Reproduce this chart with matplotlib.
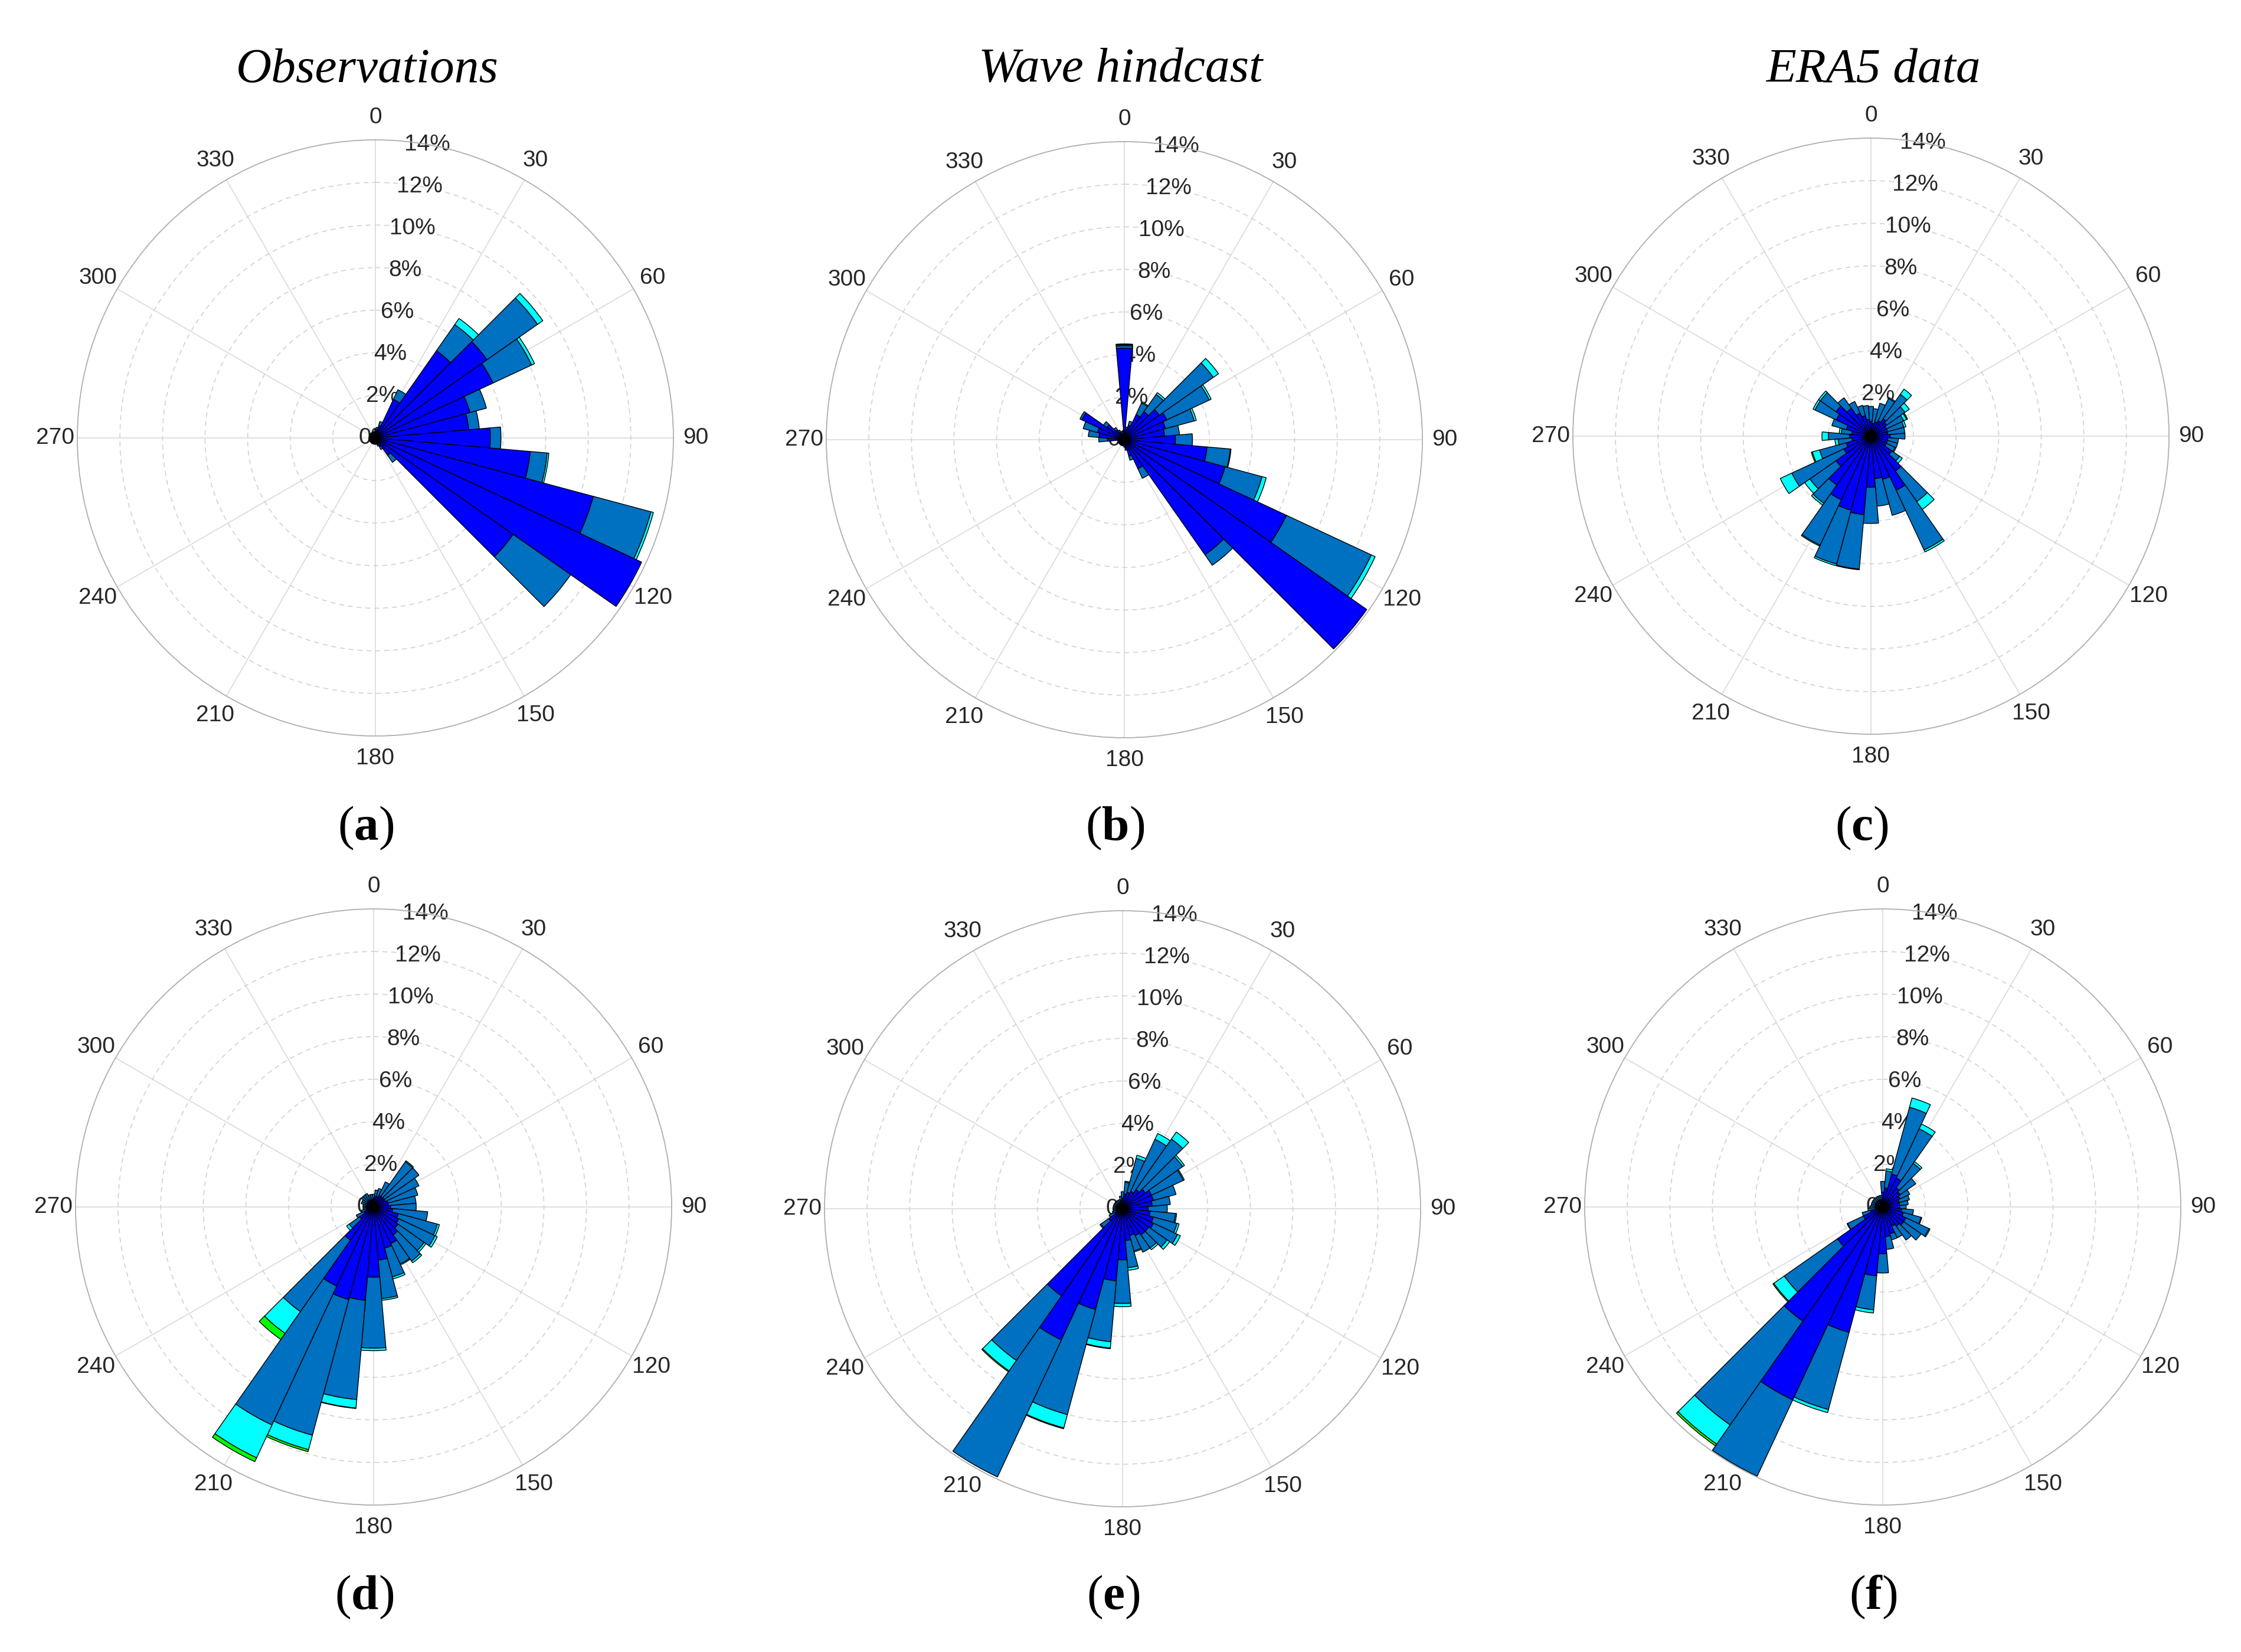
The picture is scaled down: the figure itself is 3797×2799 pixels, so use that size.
import numpy as np
import matplotlib
matplotlib.use('Agg')
import matplotlib.pyplot as plt

plt.rcParams['mathtext.fontset'] = 'custom'
plt.rcParams['mathtext.rm'] = 'Liberation Serif'
plt.rcParams['mathtext.bf'] = 'Liberation Serif:bold'

# direction bins (deg), 10 deg wide, centred on 0, 10, ..., 350
directions = np.arange(0, 360, 10)

col_titles = ['Observations', 'Wave hindcast', 'ERA5 data']
panel_tags = ['a', 'b', 'c', 'd', 'e', 'f']
class_colors = ['#0000FF', '#0070C0', '#00FFFF', '#00FF00']

# frequency (%) per direction bin and class
#          0    10   20   30   40   50   60   70   80   90   100  110  120  130  140  150  160  170
#          180  190  200  210  220  230  240  250  260  270  280  290  300  310  320  330  340  350
a_blue = [0.3, 0.35, 0.6, 2.0, 5.0, 6.4, 6.1, 4.6, 4.4, 5.4, 7.3, 10.6, 13.8, 7.9, 1.0, 0.45, 0.3, 0.25,
          0.22, 0.22, 0.22, 0.22, 0.22, 0.22, 0.22, 0.22, 0.22, 0.22, 0.22, 0.22, 0.22, 0.22, 0.22, 0.22, 0.22, 0.22]
a_steel = [0.1, 0.15, 0.2, 0.5, 1.5, 2.9, 2.0, 0.8, 0.5, 0.5, 0.8, 2.8, 0.0, 3.3, 0.4, 0.15, 0.1, 0.05,
           0.08, 0.08, 0.08, 0.08, 0.08, 0.08, 0.08, 0.08, 0.08, 0.08, 0.08, 0.08, 0.08, 0.08, 0.08, 0.08, 0.08, 0.08]
a_cyan = [0, 0, 0, 0, 0.35, 0.3, 0.15, 0, 0, 0, 0.08, 0.12, 0, 0, 0, 0, 0, 0,
          0, 0, 0, 0, 0, 0, 0, 0, 0, 0, 0, 0, 0, 0, 0, 0, 0, 0]
a_green = [0] * 36

b_blue = [4.3, 0.5, 0.7, 1.3, 1.6, 2.0, 2.2, 2.0, 1.9, 2.4, 3.9, 4.9, 8.4, 13.9, 6.6, 1.5, 0.8, 0.4,
          0.3, 0.25, 0.25, 0.25, 0.25, 0.25, 0.25, 0.25, 0.25, 0.8, 1.2, 1.3, 2.2, 1.0, 0.55, 0.4, 0.3, 0.3]
b_steel = [0.12, 0.1, 0.2, 0.6, 1.0, 3.1, 2.2, 1.4, 0.7, 0.8, 1.1, 1.8, 4.4, 0.0, 0.6, 0.5, 0.2, 0.1,
           0.05, 0.05, 0.05, 0.05, 0.05, 0.05, 0.05, 0.05, 0.05, 0.4, 0.5, 0.7, 0.1, 0.2, 0.15, 0.1, 0.1, 0.1]
b_cyan = [0.05, 0, 0, 0.05, 0.1, 0.3, 0.1, 0.1, 0, 0, 0.03, 0.2, 0.2, 0, 0, 0, 0, 0,
          0, 0, 0, 0, 0, 0, 0, 0, 0, 0, 0, 0, 0, 0, 0, 0, 0, 0]
b_green = [0.03, 0, 0, 0, 0, 0, 0, 0, 0, 0, 0, 0, 0, 0, 0, 0, 0, 0,
           0, 0, 0, 0, 0, 0, 0, 0, 0, 0, 0, 0, 0, 0, 0, 0, 0, 0]

c_blue = [0.7, 0.6, 0.7, 0.8, 1.0, 0.9, 0.8, 0.8, 0.8, 0.9, 0.8, 0.8, 0.8, 1.2, 2.0, 2.8, 2.1, 2.0,
          2.4, 3.7, 3.6, 3.3, 2.8, 2.0, 1.4, 1.2, 0.9, 1.0, 0.9, 1.2, 1.8, 2.0, 1.6, 1.2, 1.0, 0.8]
c_steel = [0.7, 0.7, 0.9, 1.15, 1.4, 1.05, 0.9, 0.8, 0.8, 0.7, 0.5, 0.5, 0.45, 0.45, 1.75, 3.1, 1.75, 1.3,
           1.7, 2.57, 2.62, 2.35, 1.05, 1.5, 2.7, 1.3, 0.65, 1.0, 0.5, 0.7, 1.1, 0.9, 0.6, 0.6, 0.5, 0.65]
c_cyan = [0, 0, 0, 0.05, 0.3, 0.25, 0.15, 0.1, 0, 0, 0, 0, 0.05, 0.15, 0.45, 0.1, 0, 0,
          0, 0.03, 0.08, 0.05, 0.1, 0.3, 0.6, 0.35, 0.15, 0.3, 0.1, 0, 0.1, 0.1, 0, 0, 0, 0]
c_green = [0, 0, 0, 0, 0, 0, 0.05, 0, 0, 0, 0, 0, 0, 0, 0, 0, 0, 0,
           0, 0, 0, 0, 0, 0, 0, 0.05, 0, 0, 0, 0, 0, 0, 0, 0, 0, 0]

d_blue = [0.4, 0.5, 0.5, 0.6, 0.6, 0.6, 0.6, 0.7, 0.7, 0.8, 0.9, 1.2, 1.3, 1.4, 1.6, 1.9, 2.0, 2.5,
          3.3, 4.4, 4.5, 4.1, 1.9, 0.8, 0.5, 0.35, 0.35, 0.35, 0.35, 0.35, 0.35, 0.35, 0.35, 0.35, 0.35, 0.35]
d_steel = [0.2, 0.3, 0.4, 0.7, 2.0, 2.0, 1.75, 1.45, 1.3, 1.2, 1.65, 1.9, 1.88, 1.5, 1.5, 1.05, 1.4, 1.82,
           3.33, 4.68, 6.6, 7.2, 4.1, 0.6, 0.4, 0.25, 0.15, 0.15, 0.15, 0.25, 0.25, 0.35, 0.35, 0.35, 0.25, 0.25]
d_cyan = [0, 0, 0, 0, 0.05, 0, 0, 0, 0, 0, 0, 0.1, 0.12, 0.1, 0.1, 0.05, 0.1, 0.08,
          0.12, 0.4, 0.7, 1.7, 1.25, 0.15, 0, 0, 0, 0, 0, 0, 0, 0, 0, 0, 0, 0]
d_green = [0, 0, 0, 0, 0, 0, 0, 0, 0, 0, 0, 0, 0, 0, 0, 0, 0, 0,
           0, 0.02, 0.1, 0.2, 0.35, 0, 0, 0, 0, 0, 0, 0, 0, 0, 0, 0, 0, 0]

e_blue = [0.5, 0.7, 0.8, 0.9, 1.1, 1.3, 1.5, 1.5, 1.4, 1.2, 1.3, 1.5, 1.6, 1.5, 1.5, 1.4, 1.3, 1.5,
          2.4, 3.4, 4.9, 6.8, 5.0, 0.8, 0.4, 0.3, 0.3, 0.3, 0.3, 0.3, 0.3, 0.3, 0.3, 0.3, 0.3, 0.4]
e_steel = [0.3, 0.55, 1.65, 2.7, 2.9, 2.15, 1.65, 1.1, 0.85, 0.9, 1.2, 1.15, 1.25, 1.05, 0.75, 0.85, 0.75, 1.28,
           2.05, 2.87, 5.11, 7.1, 3.7, 0.45, 0.3, 0.2, 0.15, 0.15, 0.15, 0.15, 0.15, 0.15, 0.15, 0.15, 0.15, 0.2]
e_cyan = [0, 0.05, 0.15, 0.3, 0.4, 0.1, 0.05, 0, 0, 0, 0.05, 0.1, 0.15, 0.15, 0.1, 0, 0.05, 0.12,
          0.15, 0.3, 0.65, 0, 0.6, 0.05, 0, 0, 0, 0, 0, 0, 0, 0, 0, 0, 0, 0]
e_green = [0, 0, 0, 0, 0, 0, 0, 0, 0, 0, 0, 0, 0, 0, 0, 0, 0, 0,
           0, 0.03, 0.04, 0, 0.05, 0, 0, 0, 0, 0, 0, 0, 0, 0, 0, 0, 0, 0]

f_blue = [0.7, 0.9, 1.6, 1.5, 1.1, 1.0, 0.9, 0.8, 0.8, 0.8, 0.9, 1.0, 1.2, 1.2, 1.1, 1.0, 1.3, 1.4,
          2.2, 3.25, 6.1, 10.0, 6.55, 2.6, 1.0, 0.6, 0.35, 0.35, 0.35, 0.35, 0.35, 0.35, 0.35, 0.35, 0.35, 0.35]
f_steel = [0.5, 0.8, 3.25, 2.55, 1.4, 0.9, 0.5, 0.5, 0.4, 0.3, 0.55, 0.87, 1.2, 1.0, 0.8, 0.6, 0.3, 0.6,
           0.9, 1.6, 3.75, 3.95, 5.95, 3.05, 0.83, 0.4, 0.35, 0.25, 0.2, 0.2, 0.2, 0.2, 0.2, 0.2, 0.2, 0.2]
f_cyan = [0, 0.1, 0.45, 0.25, 0.1, 0, 0, 0, 0, 0, 0, 0.03, 0.05, 0, 0, 0, 0, 0,
          0, 0.15, 0.15, 0, 1.1, 0.6, 0.02, 0, 0, 0, 0, 0, 0, 0, 0, 0, 0, 0]
f_green = [0, 0, 0, 0, 0, 0, 0, 0, 0, 0, 0, 0, 0, 0, 0, 0, 0, 0,
           0, 0, 0, 0, 0.1, 0.05, 0, 0, 0, 0, 0, 0, 0, 0, 0, 0, 0, 0]

panels = [
    [a_blue, a_steel, a_cyan, a_green],
    [b_blue, b_steel, b_cyan, b_green],
    [c_blue, c_steel, c_cyan, c_green],
    [d_blue, d_steel, d_cyan, d_green],
    [e_blue, e_steel, e_cyan, e_green],
    [f_blue, f_steel, f_cyan, f_green],
]

W, H = 3798, 2799
R = 505
centers = [(636, 742), (1905, 745), (3170, 739), (633, 2045), (1902, 2048), (3190, 2045)]

fig = plt.figure(figsize=(W / 100, H / 100), dpi=100)
txt_col = '#262626'
lab_font = 'Liberation Sans'
theta = np.radians(directions)
width = np.radians(10)

for k, (cx, cy) in enumerate(centers):
    ax = fig.add_axes([(cx - R) / W, 1 - (cy + R) / H, 2 * R / W, 2 * R / H], projection='polar')
    ax.set_theta_zero_location('N')
    ax.set_theta_direction(-1)
    ax.set_ylim(0, 14)
    ax.set_thetagrids(np.arange(0, 360, 30), labels=[''] * 12)
    ax.set_rgrids(np.arange(2, 15, 2), labels=[''] * 7)
    ax.xaxis.grid(True, color='#dadada', linewidth=1.2, linestyle='-')
    ax.yaxis.grid(True, color='#d2d2d2', linewidth=1.2, linestyle=(0, (5, 4)))
    ax.spines['polar'].set_color('#b0b0b0')
    ax.spines['polar'].set_linewidth(1.3)
    ax.tick_params(length=0)

    bottom = np.zeros(len(directions))
    for vals, col in zip(panels[k], class_colors):
        vals = np.array(vals, dtype=float)
        m = vals > 0
        ax.bar(theta[m], vals[m], width=width, bottom=bottom[m], color=col,
               edgecolor='black', linewidth=1.0, zorder=3)
        bottom += vals

    # radial labels along the 10 deg line
    for r in range(0, 15, 2):
        ax.text(np.radians(10), r, f'{r}%', ha='center', va='center',
                fontsize=28, color=txt_col, family=lab_font, zorder=2)
    # direction labels
    for t in range(0, 360, 30):
        ax.text(np.radians(t), 15.05, str(t), ha='center', va='center',
                fontsize=28, color=txt_col, family=lab_font, clip_on=False)

    # panel tag
    fig.text((cx - 16) / W, 1 - (1423 if k < 3 else 2726) / H, r'($\mathbf{%s}$)' % panel_tags[k],
             ha='center', va='baseline', fontsize=60, family='Liberation Serif')

title_x = [622, 1899, 3175]
for i, t in enumerate(col_titles):
    fig.text(title_x[i] / W, 1 - 139 / H, t, ha='center', va='baseline', fontsize=60,
             fontstyle='italic', family='Liberation Serif')

fig.savefig('out.png', dpi=100, facecolor='white')
